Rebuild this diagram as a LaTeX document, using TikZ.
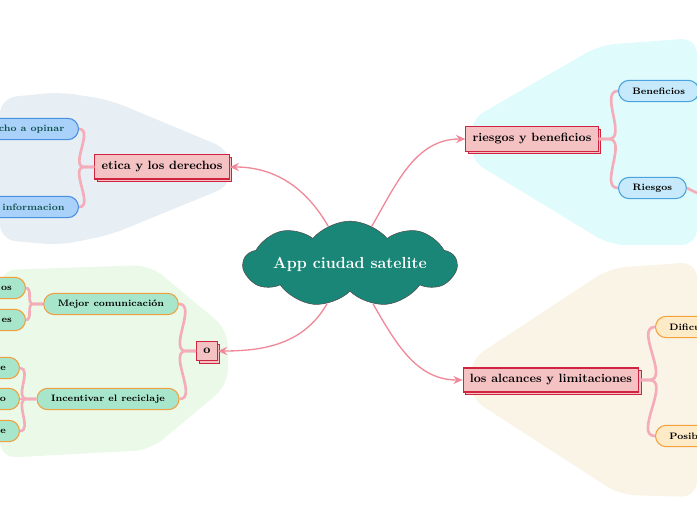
\documentclass[tikz,border=0pt]{standalone}
\usetikzlibrary{shapes.symbols,shapes.misc,arrows.meta,shadows}
\definecolor{bgA}{HTML}{E7EEF4}\definecolor{bgB}{HTML}{EAF9E8}
\definecolor{bgC}{HTML}{E0FBFC}\definecolor{bgD}{HTML}{F9F4E6}
\definecolor{pk}{HTML}{F08A9A}\definecolor{mainf}{HTML}{F5C2C4}\definecolor{maind}{HTML}{D0233F}
\definecolor{teal}{HTML}{1A8677}\definecolor{grf}{HTML}{A8E6CC}\definecolor{gro}{HTML}{F0A040}
\definecolor{blf}{HTML}{A9D1FA}\definecolor{bld}{HTML}{4A90E2}
\definecolor{cyf}{HTML}{C6EAFB}\definecolor{cyd}{HTML}{4AA3DD}
\definecolor{orf}{HTML}{FDEBC8}\definecolor{ord}{HTML}{F6A23C}
\tikzset{
 mainbox/.style={draw=maind,fill=mainf,line width=0.8pt,font=\bfseries\small,inner sep=5pt,
   copy shadow={shadow xshift=2pt,shadow yshift=-2pt,draw=maind,fill=mainf}},
 leaf/.style={rounded rectangle,line width=0.8pt,font=\bfseries\scriptsize,minimum height=16pt,inner xsep=10pt},
 gleaf/.style={leaf,draw=gro,fill=grf},
 bleaf/.style={leaf,draw=bld,fill=blf,text=teal!60!black},
 cleaf/.style={leaf,draw=cyd,fill=cyf},
 oleaf/.style={leaf,draw=ord,fill=orf},
 conn/.style={draw=pk,line width=1pt,-{Stealth[length=7pt,width=6pt]}},
 br/.style={draw=pk!70,line width=2pt},
}
\begin{document}
\begin{tikzpicture}[x=0.75pt,y=-0.75pt]
\useasboundingbox (0,0) rectangle (697,520);
\begin{scope}
\clip (0,0) rectangle (697,520);
\fill[bgA,rounded corners=12pt] (0,98) -- (60,92) -- (110,100) -- (230,150) -- (232,185) -- (110,235) -- (60,245) -- (0,240) -- cycle;
\fill[bgB,rounded corners=12pt] (0,270) -- (150,265) -- (228,330) -- (228,385) -- (150,450) -- (0,458) -- cycle;
\fill[bgC,rounded corners=12pt] (470,120) -- (600,45) -- (697,38) -- (697,245) -- (610,245) -- (470,160) -- cycle;
\fill[bgD,rounded corners=12pt] (470,360) -- (610,268) -- (697,262) -- (697,497) -- (620,495) -- (470,398) -- cycle;

\node[cloud,cloud puffs=9,cloud puff arc=100,aspect=4,draw=black!70,fill=teal,text=white,font=\bfseries\large,minimum width=158pt,minimum height=44pt,inner sep=0pt] (c) at (350,264) {App ciudad satelite};

\node[mainbox] (et) at (162,167) {etica y los derechos};
\node[mainbox] (rb) at (532,139) {riesgos y beneficios};
\node[mainbox] (al) at (551,380) {los alcances y limitaciones};
\node[mainbox] (o) at (207,351) {o};

\node[gleaf] (mc) at (111,304) {Mejor comunicación};
\node[gleaf] (ir) at (108,399) {Incentivar el reciclaje};
\node[gleaf,anchor=east] (g1) at (26,288) {os};
\node[gleaf,anchor=east] (g2) at (26,320) {es};
\node[gleaf,anchor=east] (g3) at (20,368) {e};
\node[gleaf,anchor=east] (g4) at (20,399) {o};
\node[gleaf,anchor=east] (g5) at (20,431) {e};

\node[bleaf,anchor=east] (b1) at (79,129) {Derecho a opinar};
\node[bleaf,anchor=east] (b2) at (79,207) {Derecho a informacion};

\node[cleaf,anchor=west] (be) at (618,91) {Beneficios};
\node[cleaf,anchor=west] (ri) at (618,188) {Riesgos};
\node[oleaf,anchor=west] (di) at (655,327) {Dificultades};
\node[oleaf,anchor=west] (po) at (655,436) {Posibilidades};

\coordinate (rr) at (697,193);
\draw[br] (ri.east) -- (rr);

\draw[conn] (c) to[out=120,in=0] (et.east);
\draw[conn] (c) to[out=60,in=180] (rb.west);
\draw[conn] (c) to[out=-60,in=180] (al.west);
\draw[conn] (c) to[out=-120,in=0] (o.east);

\draw[br] (et.west) -- ++(-10,0) to[out=180,in=0] (b1.east);
\draw[br] (et.west) -- ++(-10,0) to[out=180,in=0] (b2.east);
\draw[br] (rb.east) -- ++(10,0) to[out=0,in=180] (be.west);
\draw[br] (rb.east) -- ++(10,0) to[out=0,in=180] (ri.west);
\draw[br] (al.east) -- ++(10,0) to[out=0,in=180] (di.west);
\draw[br] (al.east) -- ++(10,0) to[out=0,in=180] (po.west);
\draw[br] (o.west) -- ++(-10,0) to[out=180,in=0] (mc.east);
\draw[br] (o.west) -- ++(-10,0) to[out=180,in=0] (ir.east);
\draw[br] (mc.west) -- ++(-10,0) to[out=180,in=0] (g1.east);
\draw[br] (mc.west) -- ++(-10,0) to[out=180,in=0] (g2.east);
\draw[br] (ir.west) -- ++(-10,0) to[out=180,in=0] (g3.east);
\draw[br] (ir.west) -- ++(-10,0) to[out=180,in=0] (g4.east);
\draw[br] (ir.west) -- ++(-10,0) to[out=180,in=0] (g5.east);
\end{scope}
\end{tikzpicture}
\end{document}
